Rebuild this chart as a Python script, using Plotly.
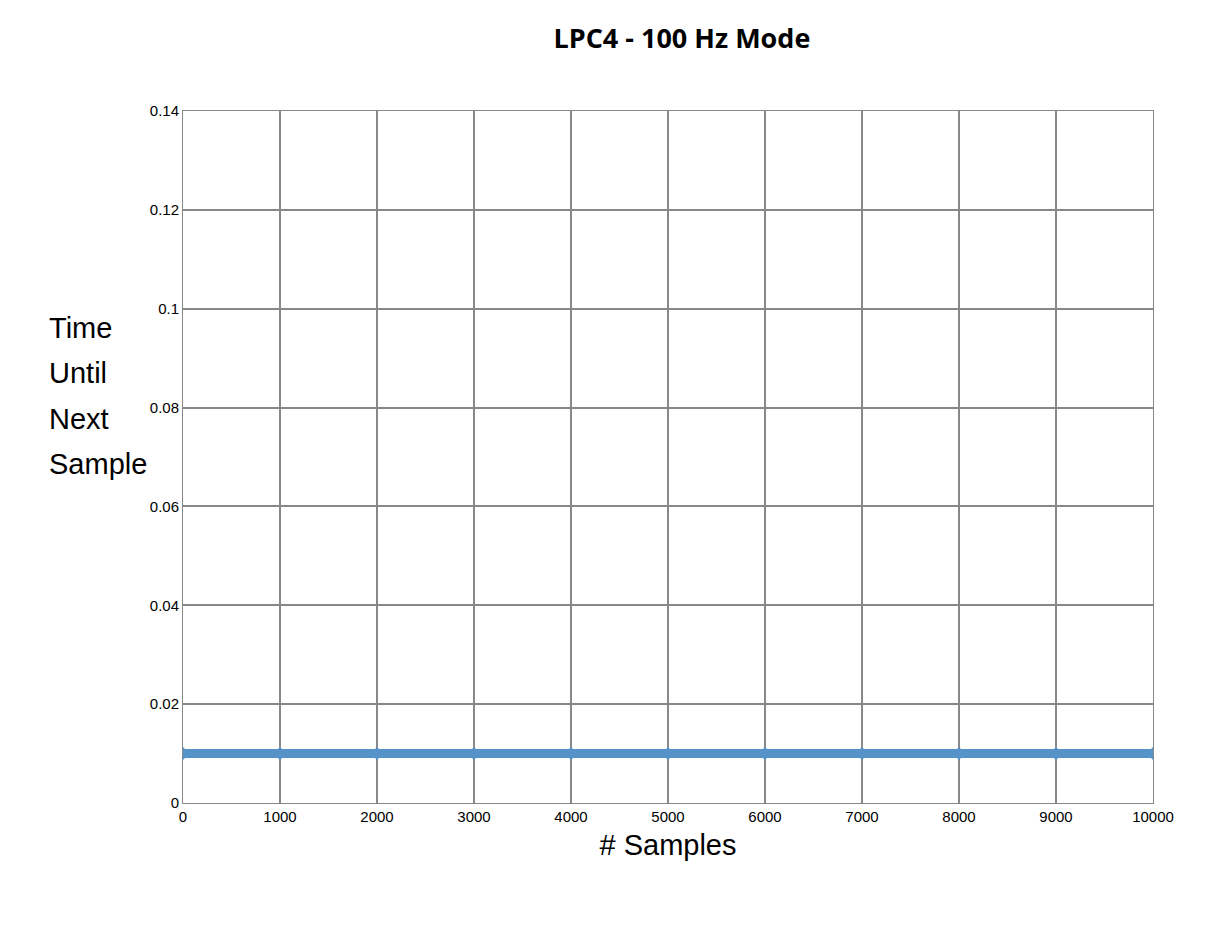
import plotly.graph_objects as go

samples = [0, 1000, 2000, 3000, 4000, 5000, 6000, 7000, 8000, 9000, 10000]
x_labels = ["0", "1000", "2000", "3000", "4000", "5000", "6000", "7000", "8000", "9000", "10000"]
time_until_next = [0.01, 0.01, 0.01, 0.01, 0.01, 0.01, 0.01, 0.01, 0.01, 0.01, 0.01]
y_ticks = [0, 0.02, 0.04, 0.06, 0.08, 0.1, 0.12, 0.14]
y_labels = ["0", "0.02", "0.04", "0.06", "0.08", "0.1", "0.12", "0.14"]
y_title_lines = ["Time", "Until", "Next", "Sample"]

fig = go.Figure(go.Scatter(
    x=samples, y=time_until_next, mode="lines+markers",
    line=dict(color="#5592C8", width=9),
    marker=dict(symbol="diamond", size=10, color="#5592C8"),
))
fig.update_layout(
    width=1232, height=932, paper_bgcolor="white", plot_bgcolor="white",
    margin=dict(l=175, r=87, t=103, b=137), showlegend=False,
    title=dict(text="<b>LPC4 - 100 Hz Mode</b>", x=0.547, xanchor="center", y=0.967,
               yanchor="middle",
               font=dict(family="Open Sans", size=27, color="black")),
    font=dict(family="Liberation Sans", color="black"),
)
fig.update_xaxes(range=[0, 10000], tickvals=samples, ticktext=x_labels, showgrid=True,
                 gridcolor="#888888", gridwidth=1.5, showline=True, linecolor="#888888",
                 mirror=True, zeroline=False, tickfont=dict(size=15), ticks="", ticklen=0,
                 title=dict(text="# Samples", font=dict(size=29), standoff=10))
fig.update_yaxes(range=[0, 0.14], tickvals=y_ticks, ticktext=y_labels, showgrid=True,
                 gridcolor="#888888", gridwidth=1.5, showline=True, linecolor="#888888",
                 mirror=True, zeroline=False, tickfont=dict(size=15), ticks="")
for i, line in enumerate(y_title_lines):
    fig.add_annotation(text=line, xref="paper", yref="paper",
                       x=-0.14, y=0.686 - i * 0.0652, xanchor="left", yanchor="middle",
                       showarrow=False,
                       font=dict(size=29, family="Liberation Sans", color="black"))
fig.write_html("out.html")
